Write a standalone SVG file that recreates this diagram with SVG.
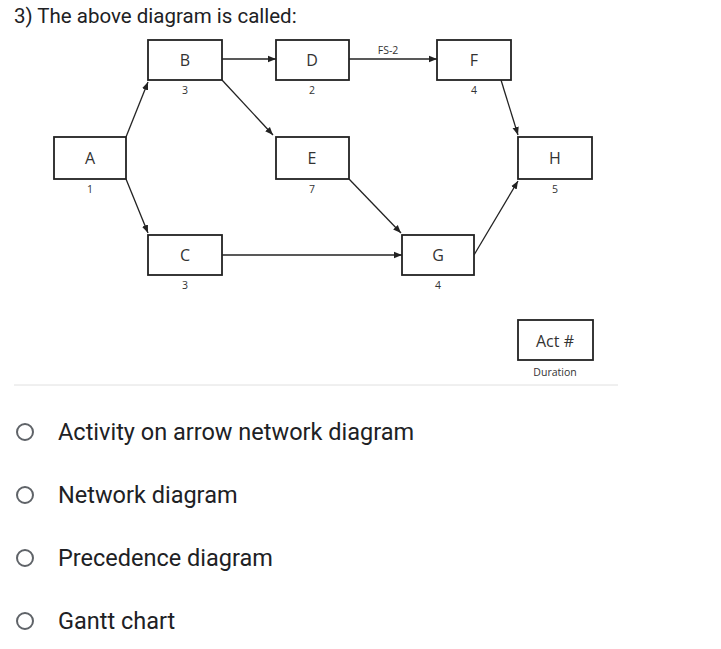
<svg xmlns="http://www.w3.org/2000/svg" width="721" height="649" viewBox="0 0 721 649">
<style>
.b{fill:#fff;stroke:#222;stroke-width:1.8}
.l{font-family:"Open Sans","Liberation Sans",sans-serif;font-size:16px;fill:#333;text-anchor:middle}
.d{font-family:"Open Sans","Liberation Sans",sans-serif;font-size:10.5px;fill:#333;text-anchor:middle}
.c{stroke:#222;stroke-width:1.3;fill:none;marker-end:url(#ah)}
.q{font-family:Roboto,"Liberation Sans",sans-serif;fill:#202124}
.r{fill:none;stroke:#5f6368;stroke-width:2}
</style>
<defs><marker id="ah" viewBox="0 0 10 10" refX="10" refY="5" markerWidth="8" markerHeight="8" markerUnits="userSpaceOnUse" orient="auto"><path d="M0,1 L10,5 L0,9 z" fill="#222"/></marker></defs>
<rect width="721" height="649" fill="#fff"/>
<text x="14" y="23" class="q" font-size="20.5">3) The above diagram is called:</text>
<g id="connectors">
<path class="c" d="M126,137 L148,82"/>
<path class="c" d="M126,179 L148,233"/>
<path class="c" d="M222,59 L276,59"/>
<path class="c" d="M349,59 L437,59"/>
<path class="c" d="M222,80 L273,135"/>
<path class="c" d="M349,179 L401,233"/>
<path class="c" d="M222,255 L402,255"/>
<path class="c" d="M501,80 L518,135"/>
<path class="c" d="M474,255 L518,181"/>
<text x="388" y="54" class="d">FS-2</text>
</g>
<g id="A"><rect class="b" x="54" y="137" width="72" height="42"/><text class="l" x="90" y="164">A</text><text class="d" x="90" y="193">1</text></g>
<g id="B"><rect class="b" x="148" y="40" width="74" height="40"/><text class="l" x="185" y="66">B</text><text class="d" x="185" y="94">3</text></g>
<g id="D"><rect class="b" x="276" y="40" width="73" height="40"/><text class="l" x="312" y="66">D</text><text class="d" x="312" y="94">2</text></g>
<g id="F"><rect class="b" x="437" y="40" width="74" height="40"/><text class="l" x="474" y="66">F</text><text class="d" x="474" y="94">4</text></g>
<g id="E"><rect class="b" x="276" y="137" width="73" height="42"/><text class="l" x="312" y="164">E</text><text class="d" x="312" y="193">7</text></g>
<g id="H"><rect class="b" x="518" y="137" width="74" height="42"/><text class="l" x="555" y="164">H</text><text class="d" x="555" y="193">5</text></g>
<g id="C"><rect class="b" x="148" y="235" width="74" height="40"/><text class="l" x="185" y="261">C</text><text class="d" x="185" y="289">3</text></g>
<g id="G"><rect class="b" x="402" y="235" width="72" height="40"/><text class="l" x="438" y="261">G</text><text class="d" x="438" y="289">4</text></g>
<g id="legend"><rect class="b" x="518" y="320" width="75" height="40"/><text class="l" x="555" y="347" font-size="19">Act #</text><text class="d" x="555" y="376" font-size="13">Duration</text></g>
<line x1="14" y1="385" x2="618" y2="385" stroke="#e0e0e0" stroke-width="1"/>
<circle class="r" cx="25" cy="432" r="8"/><text class="q" x="58" y="440" font-size="23.5">Activity on arrow network diagram</text>
<circle class="r" cx="25" cy="495" r="8"/><text class="q" x="58" y="503" font-size="23.5">Network diagram</text>
<circle class="r" cx="25" cy="558" r="8"/><text class="q" x="58" y="566" font-size="23.5">Precedence diagram</text>
<circle class="r" cx="25" cy="621" r="8"/><text class="q" x="58" y="629" font-size="23.5">Gantt chart</text>
</svg>
